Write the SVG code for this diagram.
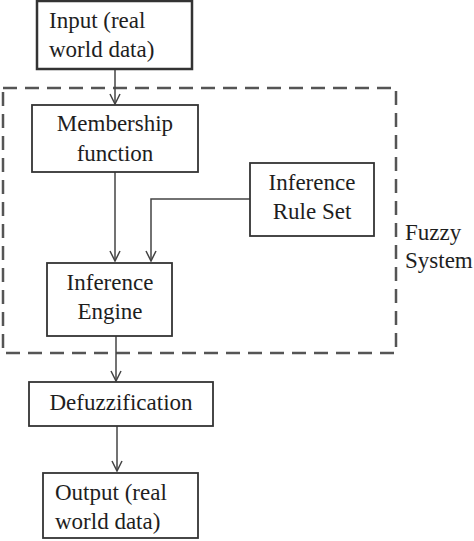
<svg xmlns="http://www.w3.org/2000/svg" width="474" height="541" viewBox="0 0 474 541">
<style>
.box{fill:#fff;stroke:#333;stroke-width:1.8}
.t{font-family:"Liberation Serif","Times New Roman",serif;font-size:23px;fill:#1e1e1e}
.c{text-anchor:middle}
.conn{fill:none;stroke:#444;stroke-width:1.5}
.dash{fill:none;stroke:#555;stroke-width:2.5;stroke-dasharray:14 8}
</style>
<defs>
<marker id="arr" viewBox="0 0 12 12" refX="11" refY="6" markerWidth="12" markerHeight="12" markerUnits="userSpaceOnUse" orient="auto">
<path d="M1,1 L11,6 L1,11" fill="none" stroke="#444" stroke-width="1.5"/>
</marker>
</defs>
<rect width="474" height="541" fill="#fff"/>
<g id="fuzzy-system">
<rect class="dash" x="3" y="88" width="393" height="265"/>
<text class="t" x="405" y="240">Fuzzy</text>
<text class="t" x="405" y="268">System</text>
</g>
<g id="connectors">
<path class="conn" d="M115,69 L115,104" marker-end="url(#arr)"/>
<path class="conn" d="M115,172 L115,261" marker-end="url(#arr)"/>
<path class="conn" d="M250,199 L151,199 L151,261" marker-end="url(#arr)"/>
<path class="conn" d="M116,336 L116,381" marker-end="url(#arr)"/>
<path class="conn" d="M117,426 L117,471" marker-end="url(#arr)"/>
</g>
<g id="input">
<rect class="box" x="37" y="1" width="155" height="68" style="stroke-width:2.5"/>
<text class="t" x="49" y="28">Input (real</text>
<text class="t" x="49" y="57">world data)</text>
</g>
<g id="membership">
<rect class="box" x="32" y="105" width="166" height="67"/>
<text class="t c" x="115" y="131">Membership</text>
<text class="t c" x="115" y="161">function</text>
</g>
<g id="rule-set">
<rect class="box" x="250" y="163" width="124" height="73"/>
<text class="t c" x="312" y="190">Inference</text>
<text class="t c" x="312" y="219">Rule Set</text>
</g>
<g id="engine">
<rect class="box" x="47" y="263" width="125" height="73"/>
<text class="t c" x="110" y="290">Inference</text>
<text class="t c" x="110" y="319">Engine</text>
</g>
<g id="defuzz">
<rect class="box" x="29" y="382" width="184" height="44"/>
<text class="t c" x="121" y="410">Defuzzification</text>
</g>
<g id="output">
<rect class="box" x="43" y="473" width="155" height="65"/>
<text class="t" x="55" y="500">Output (real</text>
<text class="t" x="55" y="529">world data)</text>
</g>
</svg>
